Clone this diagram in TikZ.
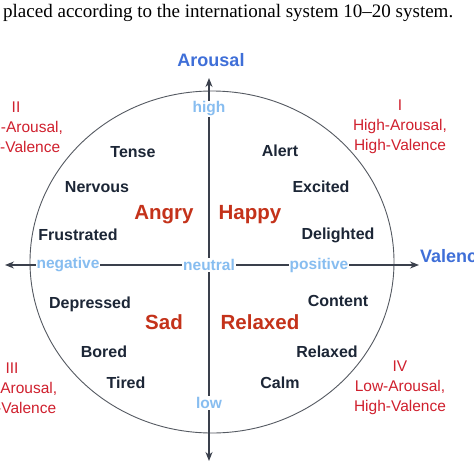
\documentclass[tikz,border=0pt]{standalone}
\usepackage{fontspec}
\usepackage{graphicx}
\setmainfont{Liberation Sans}
\newfontfamily\capfont[Ligatures=TeX]{Liberation Serif}
\usetikzlibrary{arrows.meta}
\definecolor{navy}{HTML}{1C2636}
\definecolor{emored}{HTML}{C4321A}
\definecolor{quadred}{HTML}{D0202E}
\definecolor{axisblue}{HTML}{3F6FD8}
\definecolor{lightblue}{HTML}{87BDF0}
\definecolor{axisgray}{HTML}{3A404C}
\definecolor{ringgray}{HTML}{555A62}
\tikzset{
  emo/.style={font=\fontsize{16}{18}\selectfont\bfseries, text=navy, inner sep=1pt},
  bigemo/.style={font=\fontsize{20.5}{22}\selectfont\bfseries, text=emored, inner sep=1pt},
  quad/.style={font=\fontsize{15.5}{20}\selectfont, text=quadred, align=center, inner sep=0pt},
  axtitle/.style={font=\fontsize{18}{20}\selectfont\bfseries, text=axisblue, inner sep=1pt},
  axlabel/.style={font=\fontsize{15.5}{17}\selectfont\bfseries, text=lightblue, fill=white, inner sep=1pt},
  axisline/.style={draw=axisgray, line width=1.2pt, -{Stealth[length=9pt,width=7pt]}},
}
\begin{document}
\begin{tikzpicture}[x=1pt,y=-1pt]
\useasboundingbox (0,0) rectangle (474,474);
\clip (0,0) rectangle (474,474);
\fill[white] (0,0) rectangle (474,474);
% caption
\node[anchor=base west, inner sep=0pt, font=\capfont\fontsize{16.5}{18}\selectfont] (caption) at (3,17) {\resizebox{450pt}{!}{placed according to the international system 10–20 system.}};
% ellipse
\coordinate (ctr) at (212,262);
\draw[ringgray, line width=0.9pt] (ctr) ellipse [x radius=182pt, y radius=171pt];
% axes
\coordinate (o) at (209,265);
\coordinate (top) at (209,78);
\coordinate (bot) at (209,461);
\coordinate (lft) at (5,265);
\coordinate (rgt) at (419,265);
\draw[axisline] (o) -- (top);
\draw[axisline] (o) -- (bot);
\draw[axisline] (o) -- (lft);
\draw[axisline] (o) -- (rgt);
% axis titles
\node[axtitle] (arousal) at (211,60) {Arousal};
\node[axtitle, anchor=west] (valence) at (419,256) {Valence};
% axis labels
\node[axlabel] (high) at (209,109) {high};
\node[axlabel] (low) at (209,403) {low};
\node[axlabel] (negative) at (68,265) {negative};
\node[axlabel] (neutral) at (209,265) {neutral};
\node[axlabel] (positive) at (319,265) {positive};
% quadrant labels
\node[quad] (q1) at (400,127) {I\\High-Arousal,\\High-Valence};
\node[quad] (q2) at (16,127) {II\\High-Arousal,\\Low-Valence};
\node[quad] (q3) at (12,388) {III\\Low-Arousal,\\Low-Valence};
\node[quad] (q4) at (400,388) {IV\\Low-Arousal,\\High-Valence};
% emotions
\node[emo] (tense) at (133,152) {Tense};
\node[emo] (nervous) at (97,187) {Nervous};
\node[emo] (frustrated) at (78,235) {Frustrated};
\node[emo] (alert) at (280,151) {Alert};
\node[emo] (excited) at (321,187) {Excited};
\node[emo] (delighted) at (338,235) {Delighted};
\node[emo] (depressed) at (90,304) {Depressed};
\node[emo] (bored) at (104,352) {Bored};
\node[emo] (tired) at (126,383) {Tired};
\node[emo] (content) at (338,301) {Content};
\node[emo] (relaxed) at (327,352) {Relaxed};
\node[emo] (calm) at (280,383) {Calm};
% big emotions
\node[bigemo] (angry) at (164,215) {Angry};
\node[bigemo] (happy) at (250,215) {Happy};
\node[bigemo] (sad) at (164,322) {Sad};
\node[bigemo] (relaxedbig) at (260,322) {Relaxed};
\end{tikzpicture}
\end{document}
